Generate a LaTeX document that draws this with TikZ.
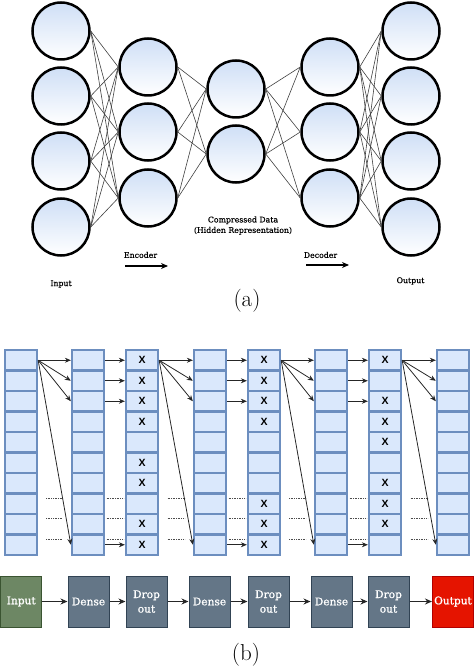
\documentclass[tikz,border=0pt]{standalone}
\usepackage{fontspec}
\newfontfamily\dvs[FakeBold=0.5]{DejaVu Serif}
\newfontfamily\dvsm[FakeBold=0.9]{DejaVu Serif}
\newfontfamily\lsans{Liberation Sans}
\usetikzlibrary{arrows.meta,calc}
\definecolor{neurontop}{HTML}{CFDFF6}
\definecolor{cellfill}{HTML}{DAE8FC}
\definecolor{cellline}{HTML}{6C8EBF}
\definecolor{greenfill}{HTML}{6D8764}
\definecolor{greenline}{HTML}{3A5431}
\definecolor{grayfill}{HTML}{647687}
\definecolor{grayline}{HTML}{314354}
\definecolor{redfill}{HTML}{E51400}
\definecolor{redline}{HTML}{B20000}
\begin{document}
\begin{tikzpicture}[x=1pt,y=-1pt,
  neuron/.style={circle, minimum size=57pt, inner sep=0pt, draw=black, line width=2.5pt, top color=neurontop, bottom color=white},
  link/.style={draw=black!75, line width=0.6pt},
  lbl/.style={font=\fontsize{7.8}{10.5}\selectfont\dvs, text=black, inner sep=0pt, align=center},
  bigarrow/.style={line width=1.8pt, -{Stealth[length=7pt,width=6pt]}},
  cell/.style={rectangle, minimum width=32pt, minimum height=20.5pt, inner sep=0pt, draw=cellline, fill=cellfill, line width=2.3pt},
  xmark/.style={font=\fontsize{10.5}{12}\selectfont\lsans\bfseries, inner sep=0pt},
  barrow/.style={draw=black!85, line width=0.8pt, -{Stealth[length=6pt,width=5pt]}},
  dots/.style={draw=black!70, line width=0.7pt, densely dotted},
  blockbox/.style={rectangle, minimum width=41pt, minimum height=51pt, inner sep=0pt, line width=1pt, text=white, align=center, font=\fontsize{10.6}{14.5}\selectfont\dvsm},
  densebox/.style={blockbox, draw=grayline, fill=grayfill},
  flow/.style={draw=black!85, line width=1.2pt, -{Stealth[length=7pt,width=6pt]}},
  caption/.style={font=\fontsize{23}{27}\selectfont, inner sep=0pt}
]
\useasboundingbox (0,0) rectangle (474,668);

% ---------- (a) autoencoder ----------
\foreach \i/\y in {1/31,2/96,3/161,4/227} {
  \node[neuron] (in\i) at (61,\y) {};
  \node[neuron] (out\i) at (411,\y) {};
}
\foreach \i/\y in {1/67,2/132,3/198} {
  \node[neuron] (enc\i) at (148,\y) {};
  \node[neuron] (dec\i) at (330,\y) {};
}
\foreach \i/\y in {1/89,2/154} {
  \node[neuron] (hid\i) at (236,\y) {};
}
\foreach \a in {1,...,4} \foreach \b in {1,2,3} \draw[link] (in\a.east) -- (enc\b.west);
\foreach \a in {1,2,3} \foreach \b in {1,2} \draw[link] (enc\a.east) -- (hid\b.west);
\foreach \a in {1,2} \foreach \b in {1,2,3} \draw[link] (hid\a.east) -- (dec\b.west);
\foreach \a in {1,2,3} \foreach \b in {1,...,4} \draw[link] (dec\a.east) -- (out\b.west);

\node[lbl] (linput) at (61,284) {Input};
\node[lbl] (lenc) at (140.5,255) {Encoder};
\node[lbl] (lhid) at (243,225.5) {Compressed Data\\(Hidden Representation)};
\node[lbl] (ldec) at (320.5,255) {Decoder};
\node[lbl] (loutput) at (410.5,281) {Output};
\coordinate (ea) at (125,266); \coordinate (eb) at (168,266);
\coordinate (da) at (306,265); \coordinate (db) at (349,265);
\draw[bigarrow] (ea) -- (eb);
\draw[bigarrow] (da) -- (db);
\node[caption] (capa) at (247,301) {(a)};

% ---------- (b) layer columns ----------
\foreach \c/\x in {1/5,2/72,3/126,4/194,5/248,6/315,7/369,8/437} {
  \foreach \r in {1,...,10} {
    \node[cell] (c\c-\r) at ({\x+16},{339.75+20.5*\r}) {};
  }
}
\foreach \r in {1,2,3,4,6,7,9,10} \node[xmark] at (c3-\r) {X};
\foreach \r in {1,2,3,4,8,9,10} \node[xmark] at (c5-\r) {X};
\foreach \r in {1,3,4,5,7,8,9} \node[xmark] at (c7-\r) {X};

% dotted fillers
\foreach \a/\b in {1/2,2/3,3/4,4/5,5/6,6/7,7/8} {
  \foreach \r in {8,9,10} {
    \coordinate (m) at ($(c\a-\r.east)!0.5!(c\b-\r.west)$);
    \draw[dots] ($(m)+(-8.5,-5.5)$) -- ($(m)+(8.5,-5.5)$);
  }
}
% fan arrows
\foreach \a/\b in {1/2,3/4,5/6,7/8} {
  \foreach \r in {1,2,3,10} \draw[barrow] (c\a-1.east) -- (c\b-\r.west);
}
% straight arrows
\foreach \a/\b in {2/3,4/5,6/7} {
  \foreach \r in {1,2,3,10} \draw[barrow] (c\a-\r.east) -- (c\b-\r.west);
}

% ---------- (b) block chain ----------
\node[blockbox, draw=greenline, fill=greenfill] (bin) at (21.25,601.5) {Input};
\node[densebox] (bd1) at (88.5,601.5) {Dense};
\node[densebox] (bp1) at (146.5,601.5) {Drop\\out};
\node[densebox] (bd2) at (209.5,601.5) {Dense};
\node[densebox] (bp2) at (268.5,601.5) {Drop\\out};
\node[densebox] (bd3) at (331.5,601.5) {Dense};
\node[densebox] (bp3) at (388.5,601.5) {Drop\\out};
\node[blockbox, draw=redline, fill=redfill] (bout) at (453,601.5) {Output};
\draw[flow] (bin) -- (bd1);
\draw[flow] (bd1) -- (bp1);
\draw[flow] (bp1) -- (bd2);
\draw[flow] (bd2) -- (bp2);
\draw[flow] (bp2) -- (bd3);
\draw[flow] (bd3) -- (bp3);
\draw[flow] (bp3) -- (bout);
\node[caption] (capb) at (246,655) {(b)};
\end{tikzpicture}
\end{document}
